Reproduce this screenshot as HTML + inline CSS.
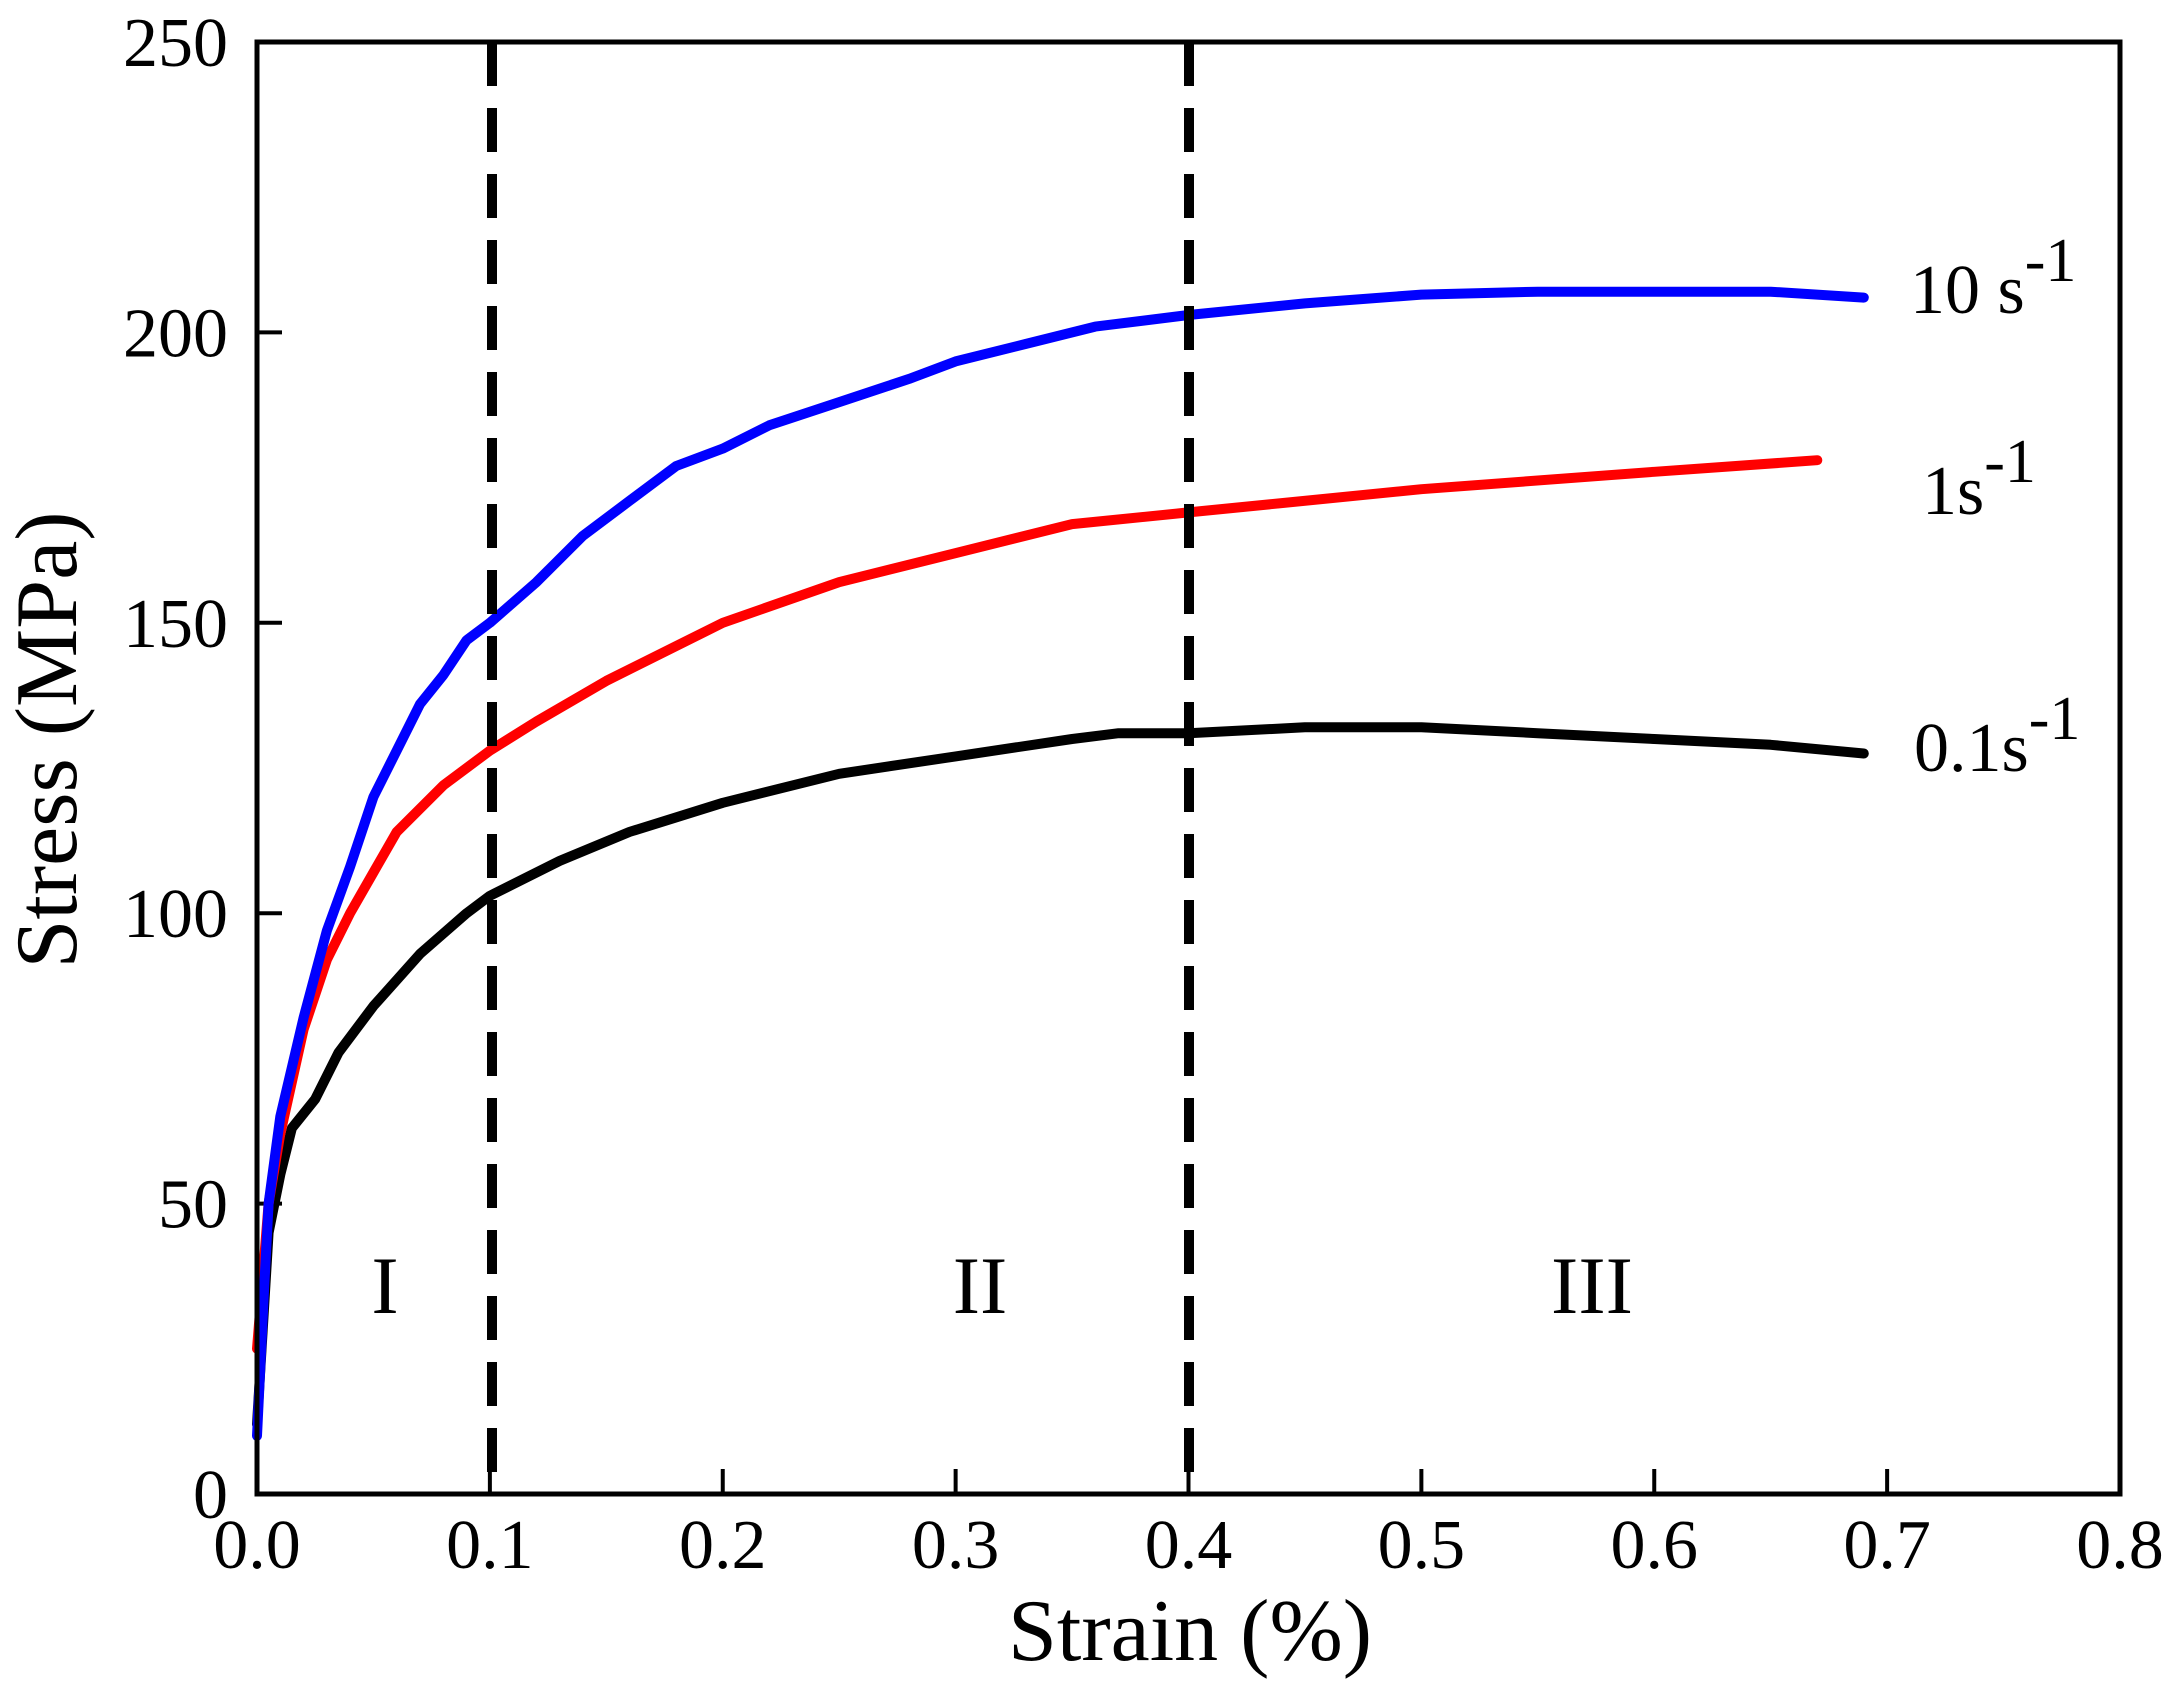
<!DOCTYPE html>
<html><head><meta charset="utf-8"><style>
html,body{margin:0;padding:0;background:#fff;}
svg{display:block;font-family:"Liberation Serif",serif;}
</style></head><body>
<svg id="s" width="2174" height="1689" viewBox="0 0 2174 1689" xmlns="http://www.w3.org/2000/svg">
<g id="ticks" stroke="#000" stroke-width="4"></g>
<g id="curves" fill="none" stroke-linejoin="round" stroke-linecap="round"></g>
<line x1="492" y1="42" x2="492" y2="1494" stroke="#000" stroke-width="10" stroke-dasharray="44,22"/>
<line x1="1189" y1="42" x2="1189" y2="1494" stroke="#000" stroke-width="10" stroke-dasharray="44,22"/>
<rect x="257" y="42" width="1863" height="1452" fill="none" stroke="#000" stroke-width="5"/>
<g font-size="70" text-anchor="end" id="ylab"></g>
<g font-size="70" text-anchor="middle" id="xlab"></g>
<text x="1190" y="1660" font-size="88" text-anchor="middle">Strain (%)</text>
<text transform="translate(76,740) rotate(-90)" font-size="88" text-anchor="middle">Stress (MPa)</text>
<g font-size="82" text-anchor="middle">
<text x="385" y="1313">I</text><text x="980" y="1313">II</text><text x="1592" y="1313">III</text>
</g>
<g font-size="70">
<text x="1910" y="313">10 s<tspan dy="-32" font-size="62">-1</tspan></text>
<text x="1922" y="514">1s<tspan dy="-32" font-size="62">-1</tspan></text>
<text x="1914" y="771">0.1s<tspan dy="-32" font-size="62">-1</tspan></text>
</g>
</svg>
<script>
var X=function(v){return 257+v*2328.75},Y=function(v){return 1494-v*5.808};
var ns="http://www.w3.org/2000/svg";
function el(p,t,a,txt){var e=document.createElementNS(ns,t);for(var k in a)e.setAttribute(k,a[k]);if(txt!=null)e.textContent=txt;document.getElementById(p).appendChild(e);}
for(var i=0;i<=8;i++){var x=X(i/10);el("ticks","line",{x1:x,y1:1494,x2:x,y2:1469});el("xlab","text",{x:x,y:1568},(i/10).toFixed(1));}
for(var j=0;j<=250;j+=50){var y=Y(j);el("ticks","line",{x1:257,y1:y,x2:282,y2:y});el("ylab","text",{x:228,y:y+24},j);}
var B=[[0,10],[0.003,35],[0.005,50],[0.01,65],[0.02,82],[0.03,97],[0.04,108],[0.05,120],[0.06,128],[0.07,136],[0.08,141],[0.09,147],[0.1,150],[0.12,157],[0.14,165],[0.16,171],[0.18,177],[0.2,180],[0.22,184],[0.25,188],[0.28,192],[0.3,195],[0.33,198],[0.36,201],[0.4,203],[0.45,205],[0.5,206.5],[0.55,207],[0.6,207],[0.65,207],[0.69,206]];
var R=[[0,25],[0.005,50],[0.01,62],[0.02,80],[0.03,92],[0.04,100],[0.05,107],[0.06,114],[0.08,122],[0.1,128],[0.12,133],[0.15,140],[0.2,150],[0.25,157],[0.3,162],[0.35,167],[0.4,169],[0.5,173],[0.6,176],[0.67,178]];
var K=[[0,12],[0.005,45],[0.01,55],[0.015,63],[0.025,68],[0.035,76],[0.05,84],[0.07,93],[0.09,100],[0.1,103],[0.13,109],[0.16,114],[0.2,119],[0.25,124],[0.3,127],[0.35,130],[0.37,131],[0.4,131],[0.45,132],[0.5,132],[0.55,131],[0.6,130],[0.65,129],[0.69,127.5]];
function path(d){return d.map(function(p,i){return (i?"L":"M")+X(p[0]).toFixed(1)+","+Y(p[1]).toFixed(1)}).join("");}
el("curves","path",{d:path(K),stroke:"#000","stroke-width":10});
el("curves","path",{d:path(R),stroke:"#f00","stroke-width":10});
el("curves","path",{d:path(B),stroke:"#00f","stroke-width":10});
</script>
</body></html>
